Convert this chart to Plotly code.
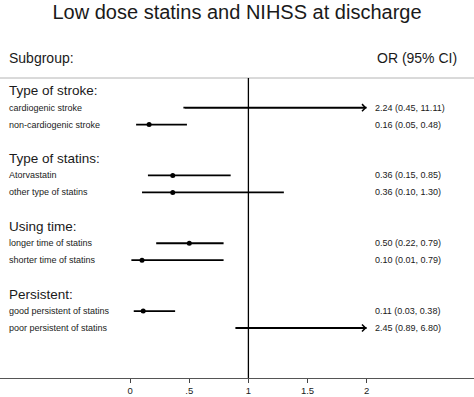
import plotly.graph_objects as go

# ---------------- data ----------------
title_text = "Low dose statins and NIHSS at discharge"
group_names = ["Type of stroke:", "Type of statins:", "Using time:", "Persistent:"]
subgroup_names = [
    "cardiogenic stroke", "non-cardiogenic stroke",
    "Atorvastatin", "other type of statins",
    "longer time of statins", "shorter time of statins",
    "good persistent of statins", "poor persistent of statins",
]
subgroup_group = [0, 0, 1, 1, 2, 2, 3, 3]
or_values = [2.24, 0.16, 0.36, 0.36, 0.50, 0.10, 0.11, 2.45]
ci_lower = [0.45, 0.05, 0.15, 0.10, 0.22, 0.01, 0.03, 0.89]
ci_upper = [11.11, 0.48, 0.85, 1.30, 0.79, 0.79, 0.38, 6.80]
tick_vals = [0, 0.5, 1, 1.5, 2]
tick_text = ["0", ".5", "1", "1.5", "2"]
null_value = 1

# ---------------- layout helpers ----------------
W, H = 474, 397
FONT = "Arial, Liberation Sans, sans-serif"
TXT = "#1a1a1a"
x_cap = max(tick_vals)

# row positions: each group takes a heading row, its subgroup rows, and a blank row
group_rows = []
sub_rows = []
r = 0
for g in range(len(group_names)):
    group_rows.append(r)
    r += 1
    for i, sg in enumerate(subgroup_group):
        if sg == g:
            sub_rows.append(r)
            r += 1
    r += 1

fig = go.Figure()
annotations = []

# CI lines and points
for i in range(len(subgroup_names)):
    y = sub_rows[i]
    hi = min(ci_upper[i], x_cap)
    fig.add_trace(go.Scatter(
        x=[ci_lower[i], hi], y=[y, y], mode="lines",
        line=dict(color="black", width=1.8), hoverinfo="skip", showlegend=False))
    if or_values[i] <= x_cap:
        fig.add_trace(go.Scatter(
            x=[or_values[i]], y=[y], mode="markers",
            marker=dict(color="black", size=5, symbol="circle"),
            hoverinfo="skip", showlegend=False))
    if ci_upper[i] > x_cap:
        annotations.append(dict(
            x=x_cap, y=y, ax=ci_lower[i], ay=y, xref="x", yref="y",
            axref="x", ayref="y", text="", showarrow=True,
            arrowhead=4, arrowsize=0.9, arrowwidth=1.5, arrowcolor="black"))
    annotations.append(dict(
        x=7 / W, y=y, xref="paper", yref="y", text=subgroup_names[i],
        showarrow=False, xanchor="left", yanchor="middle",
        font=dict(family=FONT, size=9, color=TXT)))
    annotations.append(dict(
        x=373 / W, y=y, xref="paper", yref="y",
        text=f"{or_values[i]:.2f} ({ci_lower[i]:.2f}, {ci_upper[i]:.2f})",
        showarrow=False, xanchor="left", yanchor="middle",
        font=dict(family=FONT, size=9, color=TXT)))

for g, name in enumerate(group_names):
    annotations.append(dict(
        x=7 / W, y=group_rows[g], xref="paper", yref="y", text=name,
        showarrow=False, xanchor="left", yanchor="middle",
        font=dict(family=FONT, size=13.5, color=TXT)))

# header
T, B = 78, 19
plot_h = H - T - B
header_y = (H - B - 58) / plot_h
annotations.append(dict(x=7 / W, y=header_y, xref="paper", yref="paper",
                        text="Subgroup:", showarrow=False, xanchor="left",
                        yanchor="middle", font=dict(family=FONT, size=14, color=TXT)))
annotations.append(dict(x=459 / W, y=header_y, xref="paper", yref="paper",
                        text="OR (95% CI)", showarrow=False, xanchor="right",
                        yanchor="middle", font=dict(family=FONT, size=14, color=TXT)))

shapes = [
    dict(type="line", xref="paper", yref="paper", x0=0, x1=1, y0=1, y1=1,
         line=dict(color="#b4b4b4", width=1)),
    dict(type="line", xref="x", yref="paper", x0=null_value, x1=null_value, y0=0, y1=1,
         line=dict(color="black", width=1.3)),
]

px_per_unit = 118.2
x0_px = 130.2
fig.update_layout(
    width=W, height=H,
    margin=dict(l=0, r=0, t=T, b=B),
    paper_bgcolor="white", plot_bgcolor="white",
    title=dict(text=title_text, x=0.5, xanchor="center", xref="paper",
               y=1 - 12 / H, yref="container", yanchor="middle",
               font=dict(family=FONT, size=20, color=TXT)),
    xaxis=dict(range=[-x0_px / px_per_unit, (W - x0_px) / px_per_unit],
               tickvals=tick_vals, ticktext=tick_text, ticks="outside",
               ticklen=4, tickcolor="#444", showline=True, linecolor="#555",
               linewidth=1, showgrid=False, zeroline=False,
               tickfont=dict(family=FONT, size=9.5, color=TXT)),
    yaxis=dict(range=[16.95, -0.75], showticklabels=False, showgrid=False,
               zeroline=False, showline=False, ticks=""),
    annotations=annotations,
    shapes=shapes,
    showlegend=False,
)

fig.write_html(
    "out.html",
    config={"displayModeBar": False},
    post_script="document.body.style.margin='0';document.body.style.padding='0';document.body.style.overflow='hidden';",
)
